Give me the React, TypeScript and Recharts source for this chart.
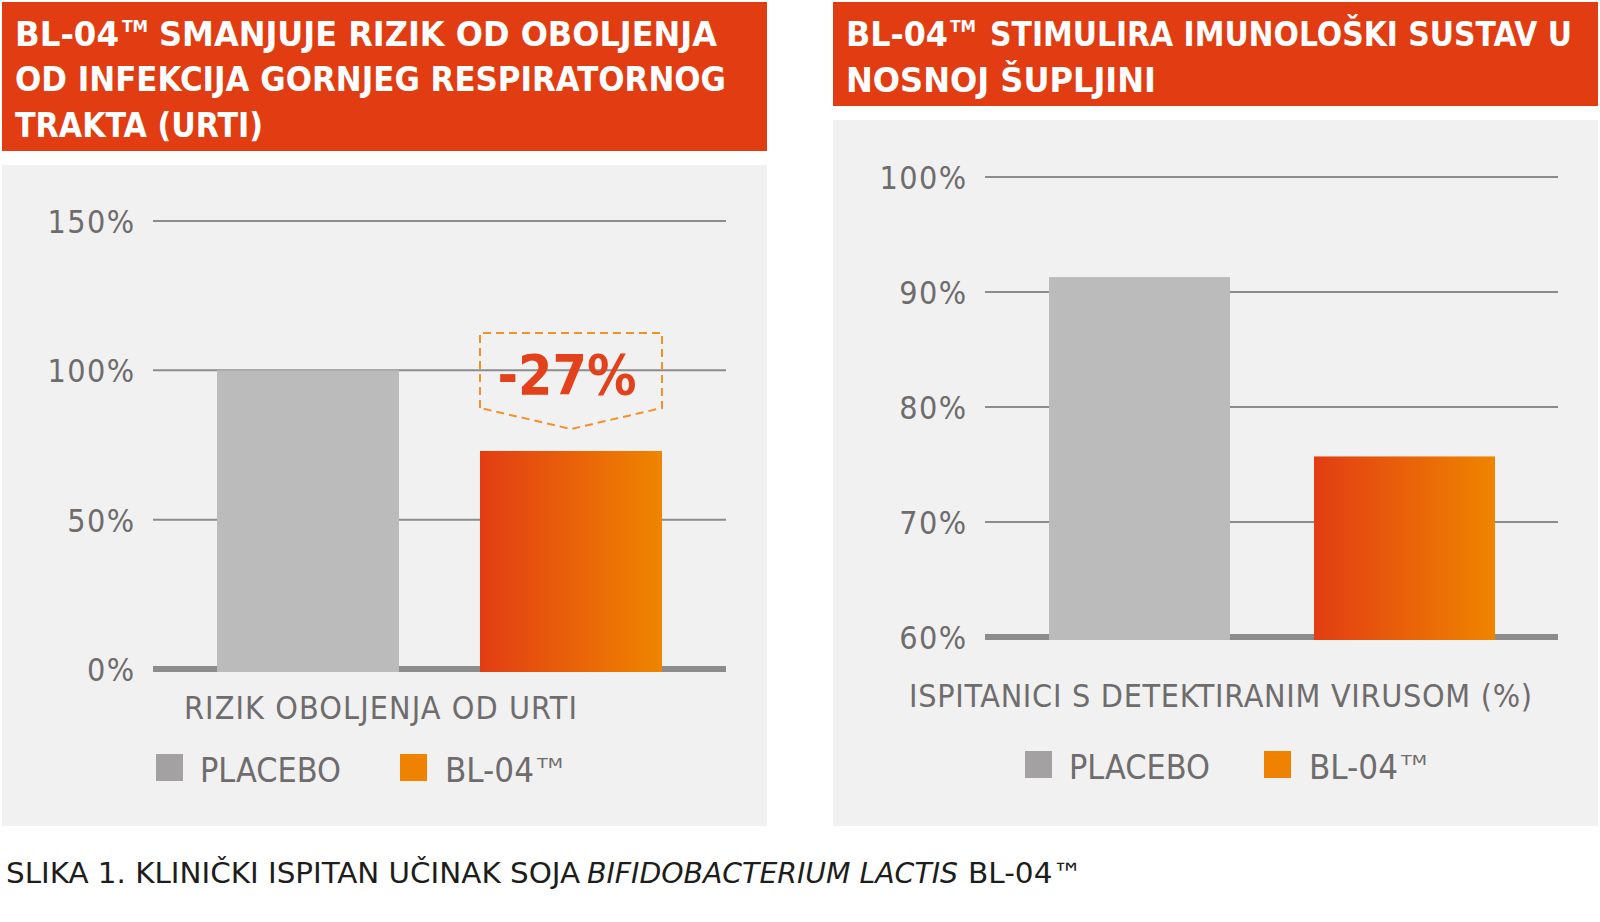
import React from 'react';
import { BarChart, Bar, XAxis, YAxis, CartesianGrid, LabelList } from 'recharts';

const FONT = "'Liberation Sans Narrow', 'DejaVu Sans Condensed', 'Arial Narrow', sans-serif";
const GRAY_TEXT = '#6f6c6d';
const HEADER_RED = '#e13c12';
const PANEL_BG = '#f1f1f1';
const PLACEBO_GRAY = '#bcbbbb';
const LEGEND_GRAY = '#a3a1a1';
const LEGEND_ORANGE = '#ef8200';
const GRID = '#8c8c8c';

// left chart: URTI risk
const urtiCategories = ['RIZIK OBOLJENJA OD URTI'];
const urtiPlacebo = [100];
const urtiBl04 = [73];
const urtiTicks = [0, 50, 100, 150];

// right chart: subjects with detected virus
const virusCategories = ['ISPITANICI S DETEKTIRANIM VIRUSOM (%)'];
const virusPlacebo = [91.3];
const virusBl04 = [75.7];
const virusTicks = [60, 70, 80, 90, 100];

const seriesNames = ['PLACEBO', 'BL-04'];

const urtiData = urtiCategories.map((name, i) => ({ name, placebo: urtiPlacebo[i], bl04: urtiBl04[i] }));
const virusData = virusCategories.map((name, i) => ({ name, placebo: virusPlacebo[i], bl04: virusBl04[i] }));

const YTick = (props: any) => {
  const { x, y, payload } = props;
  return (
    <text x={x - 17.5} y={y + 12} textAnchor="end" fontFamily={FONT} fontSize={32} letterSpacing={1.4} fill={GRAY_TEXT}>
      {payload.value}%
    </text>
  );
};

const makeXTick = (shift: number, drop: number, length: number) => (props: any) => (
  <text
    x={props.x + shift}
    y={props.y + drop}
    textAnchor="middle"
    fontFamily={FONT}
    fontSize={32}
    fill={GRAY_TEXT}
    textLength={length}
    lengthAdjust="spacing"
  >
    {props.payload.value}
  </text>
);

// bottom grid line is the thick baseline
const gridLine = (props: any) => {
  const { x1, x2, y1, y2, index } = props;
  return (
    <line
      key={'g' + index}
      x1={x1}
      x2={x2}
      y1={y1}
      y2={y2}
      stroke={GRID}
      strokeWidth={index === 0 ? 6 : 2}
    />
  );
};

// bars run down over the thick baseline
const BarShape = (props: any) => (
  <rect x={props.x} y={props.y} width={props.width} height={props.height + 3} fill={props.fill} />
);

const ChangeLabel = (props: any) => {
  const { x, y, width, value, index } = props;
  const base = urtiPlacebo[index];
  const change = Math.round(((value - base) / base) * 100);
  const cx = x + width / 2;
  const top = y - 118;
  const side = y - 43;
  const tip = y - 22;
  return (
    <g>
      <path
        d={`M${x},${side} L${x},${top} L${x + width},${top} L${x + width},${side} L${cx},${tip} Z`}
        fill="none"
        stroke="#f0922a"
        strokeWidth={2}
        strokeDasharray="8 5"
      />
      <text
        x={cx - 4}
        y={y - 57}
        textAnchor="middle"
        fontFamily={FONT}
        fontWeight="bold"
        fontSize={55}
        fill="#e3411b"
        textLength={139}
        lengthAdjust="spacingAndGlyphs"
      >
        {change}%
      </text>
    </g>
  );
};

const Gradient = ({ id }: { id: string }) => (
  <defs>
    <linearGradient id={id} x1="0" y1="0" x2="1" y2="0">
      <stop offset="0%" stopColor="#e23d13" />
      <stop offset="100%" stopColor="#ef8500" />
    </linearGradient>
  </defs>
);

const T = (p: any) => (
  <text
    x={p.x}
    y={p.y}
    fontFamily={FONT}
    fontSize={p.size}
    fontWeight={p.bold ? 'bold' : 'normal'}
    fontStyle={p.italic ? 'italic' : 'normal'}
    fill={p.fill}
    textLength={p.len}
    lengthAdjust="spacingAndGlyphs"
  >
    {p.children}
  </text>
);

const Legend = ({ x, y, gap }: { x: number; y: number; gap: number }) => (
  <g>
    <rect x={x} y={y} width={27} height={27} fill={LEGEND_GRAY} />
    <T x={x + 44} y={y + 28} size={34} fill={GRAY_TEXT} len={141}>{seriesNames[0]}</T>
    <rect x={x + gap} y={y} width={27} height={27} fill={LEGEND_ORANGE} />
    <T x={x + gap + 45} y={y + 28} size={34} fill={GRAY_TEXT} len={89}>{seriesNames[1]}</T>
    <T x={x + gap + 137} y={y + 14} size={14} fill={GRAY_TEXT} len={26}>TM</T>
  </g>
);

export default function App() {
  return (
    <div style={{ position: 'absolute', left: 0, top: 0, width: 1600, height: 922, background: '#fff', overflow: 'hidden' }}>
      <div style={{ position: 'absolute', left: 2, top: 2, width: 765, height: 149, background: HEADER_RED }} />
      <div style={{ position: 'absolute', left: 2, top: 165, width: 765, height: 661, background: PANEL_BG }} />
      <div style={{ position: 'absolute', left: 833, top: 2, width: 765, height: 104, background: HEADER_RED }} />
      <div style={{ position: 'absolute', left: 833, top: 120, width: 765, height: 706, background: PANEL_BG }} />

      <div style={{ position: 'absolute', left: 0, top: 0 }}>
        <BarChart width={780} height={830} data={urtiData} margin={{ top: 221, right: 54, bottom: 101, left: 53 }} barGap={81}>
          <Gradient id="urtiGrad" />
          <CartesianGrid vertical={false} horizontal={gridLine} />
          <XAxis dataKey="name" axisLine={false} tickLine={false} tickSize={0} tickMargin={0} height={60} tick={makeXTick(-59, 50, 393)} />
          <YAxis type="number" domain={[0, 150]} ticks={urtiTicks} interval={0} width={100} axisLine={false} tickLine={false} tickSize={0} tickMargin={0} tick={<YTick />} />
          <Bar dataKey="placebo" name={seriesNames[0]} fill={PLACEBO_GRAY} barSize={182} shape={<BarShape />} isAnimationActive={false} />
          <Bar dataKey="bl04" name={seriesNames[1]} fill="url(#urtiGrad)" barSize={182} shape={<BarShape />} isAnimationActive={false}>
            <LabelList dataKey="bl04" content={<ChangeLabel />} />
          </Bar>
        </BarChart>
      </div>

      <div style={{ position: 'absolute', left: 830, top: 0 }}>
        <BarChart width={770} height={830} data={virusData} margin={{ top: 177, right: 42, bottom: 133, left: 55 }} barGap={84}>
          <Gradient id="virusGrad" />
          <CartesianGrid vertical={false} horizontal={gridLine} />
          <XAxis dataKey="name" axisLine={false} tickLine={false} tickSize={0} tickMargin={0} height={60} tick={makeXTick(-51, 70, 623)} />
          <YAxis type="number" domain={[60, 100]} ticks={virusTicks} interval={0} width={100} axisLine={false} tickLine={false} tickSize={0} tickMargin={0} tick={<YTick />} />
          <Bar dataKey="placebo" name={seriesNames[0]} fill={PLACEBO_GRAY} barSize={181} shape={<BarShape />} isAnimationActive={false} />
          <Bar dataKey="bl04" name={seriesNames[1]} fill="url(#virusGrad)" barSize={181} shape={<BarShape />} isAnimationActive={false} />
        </BarChart>
      </div>

      <svg width={1600} height={922} style={{ position: 'absolute', left: 0, top: 0, pointerEvents: 'none' }}>
        {/* left header */}
        <T x={15} y={46} size={33} bold fill="#fff" len={104}>BL-04</T>
        <T x={122} y={32} size={15} bold fill="#fff" len={26}>TM</T>
        <T x={159} y={46} size={33} bold fill="#fff" len={558}>SMANJUJE RIZIK OD OBOLJENJA</T>
        <T x={15} y={91} size={33} bold fill="#fff" len={711}>OD INFEKCIJA GORNJEG RESPIRATORNOG</T>
        <T x={15} y={137} size={33} bold fill="#fff" len={248}>TRAKTA (URTI)</T>

        {/* right header */}
        <T x={846} y={46} size={33} bold fill="#fff" len={102}>BL-04</T>
        <T x={950} y={32} size={15} bold fill="#fff" len={26}>TM</T>
        <T x={990} y={46} size={33} bold fill="#fff" len={582}>STIMULIRA IMUNOLOŠKI SUSTAV U</T>
        <T x={846} y={92} size={33} bold fill="#fff" len={310}>NOSNOJ ŠUPLJINI</T>

        <Legend x={156} y={754} gap={244} />
        <Legend x={1025} y={751} gap={239} />

        {/* caption */}
        <T x={6} y={883} size={28} fill="#1d1d1b" len={574}>SLIKA 1. KLINIČKI ISPITAN UČINAK SOJA</T>
        <T x={587} y={883} size={28} italic fill="#1d1d1b" len={371}>BIFIDOBACTERIUM LACTIS</T>
        <T x={968} y={883} size={28} fill="#1d1d1b" len={114}>BL-04™</T>
      </svg>
    </div>
  );
}
